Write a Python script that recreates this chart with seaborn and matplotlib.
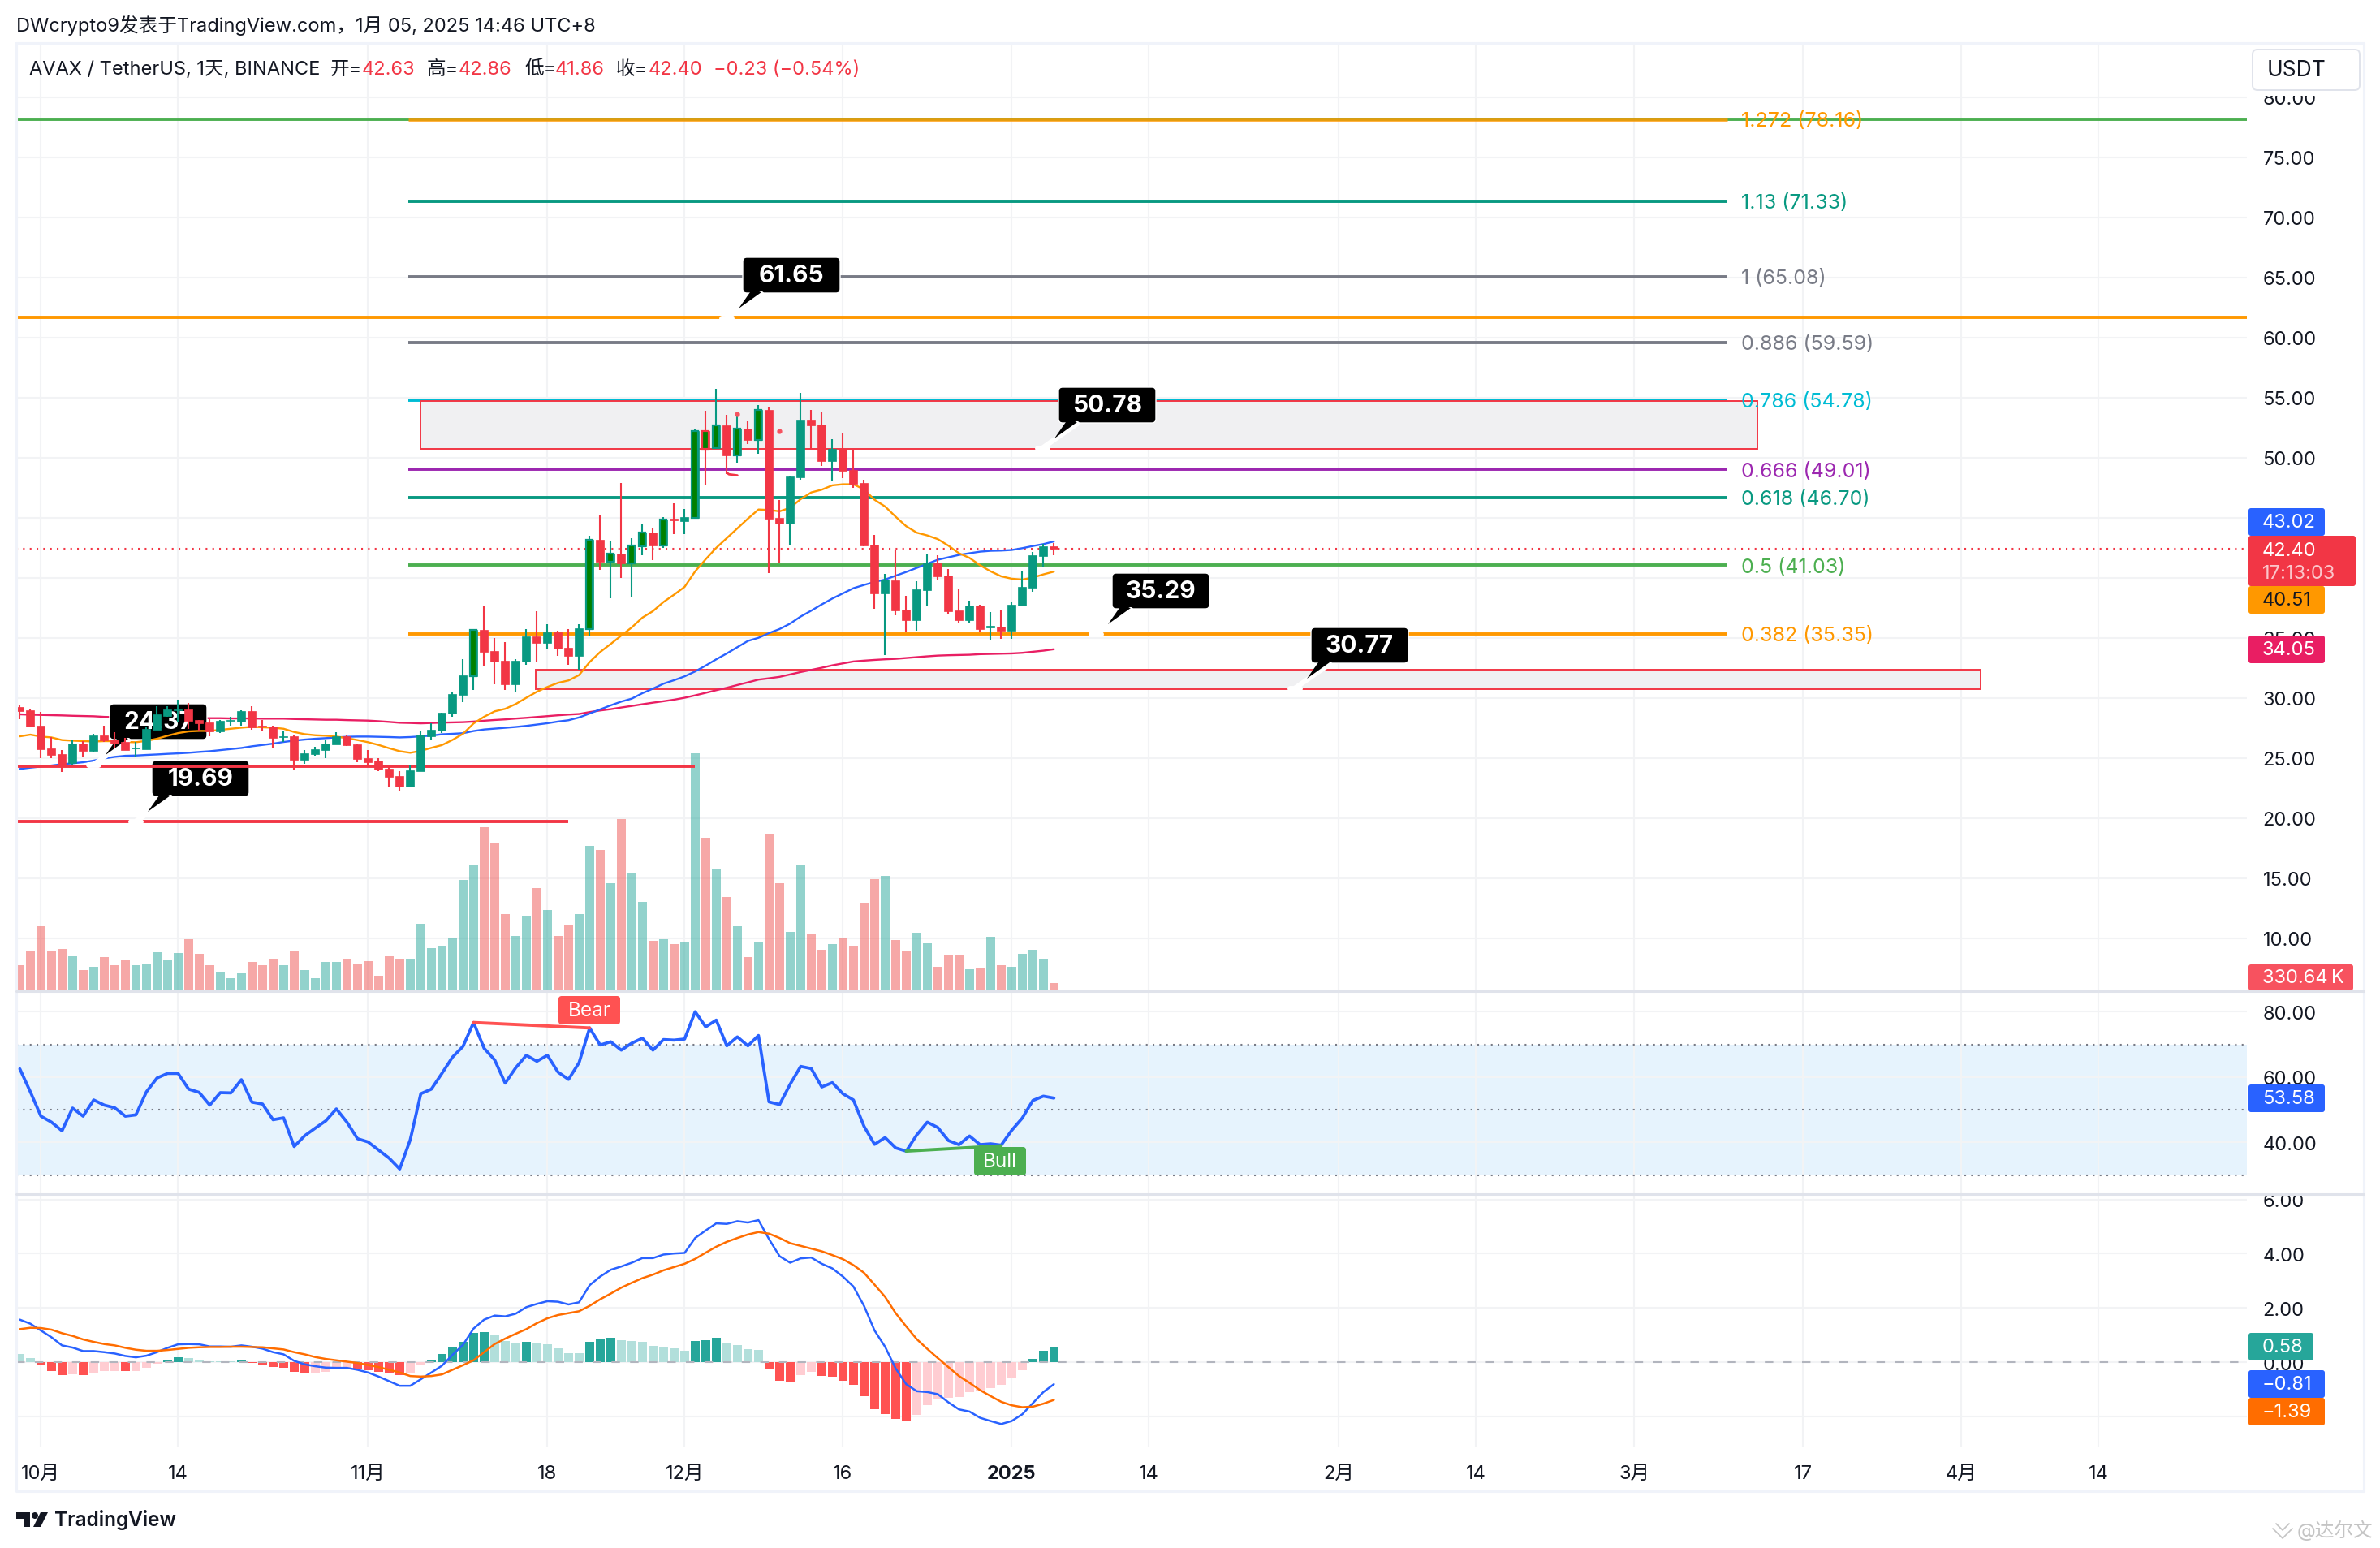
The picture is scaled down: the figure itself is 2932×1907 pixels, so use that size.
import numpy as np
import pandas as pd
import matplotlib
matplotlib.use("Agg")
import matplotlib.pyplot as plt
import seaborn as sns
from matplotlib.patches import Rectangle, FancyBboxPatch, Polygon, Circle
from matplotlib.lines import Line2D
from matplotlib.transforms import Affine2D

# ---------- data ----------
opens = [29.21,28.96,27.68,25.79,25.32,24.57,26.19,25.61,26.87,26.53,26.33,25.77,25.74,27.37,28.47,28.99,29.03,28.15,27.93,27.21,
28.09,28.02,28.90,27.68,27.61,26.76,26.80,24.84,25.32,25.65,26.13,26.80,26.13,24.98,24.78,24.10,23.49,22.61,23.90,
26.83,27.29,28.70,30.26,31.81,35.66,33.91,33.10,31.14,33.03,35.12,34.58,35.46,34.18,33.50,35.73,43.16,41.34,42.01,41.20,42.62,
43.77,42.69,44.92,44.72,44.99,52.21,50.80,52.69,50.19,52.42,51.47,53.97,44.99,44.51,48.36,53.09,52.76,49.71,50.73,48.97,
47.89,42.76,38.70,39.78,37.35,36.47,38.97,41.20,40.19,37.28,36.47,37.69,35.89,35.93,35.60,37.69,39.18,41.81,42.63]
highs = [29.41,29.08,28.81,26.71,25.65,26.44,26.37,27.00,27.68,27.12,26.67,26.33,27.57,29.30,29.30,29.84,29.55,28.15,28.20,28.13,
28.42,28.96,29.30,28.15,27.68,27.19,26.89,25.65,25.92,26.44,27.14,26.89,26.22,25.65,24.98,24.26,23.90,24.42,27.28,
27.91,28.77,30.46,33.23,35.73,37.62,34.99,34.65,33.23,35.73,37.22,36.14,35.60,35.73,36.14,43.50,45.26,43.09,47.89,43.30,44.45,
44.18,45.05,46.20,45.73,52.42,53.90,55.73,53.57,53.70,53.03,54.38,54.17,46.47,48.43,55.39,53.97,53.77,51.54,52.01,50.66,
48.16,43.57,40.32,42.35,38.50,39.72,42.01,41.88,40.73,39.04,38.09,37.76,37.15,37.28,37.96,40.59,42.15,42.82,42.86]
lows = [28.24,27.57,24.98,24.98,23.85,24.37,25.05,25.47,26.33,25.88,25.65,25.07,25.72,27.34,28.42,28.02,27.41,27.23,26.80,27.07,
27.68,27.68,27.34,27.23,25.86,26.33,23.97,24.51,25.18,24.98,26.13,25.99,24.64,24.37,23.90,22.55,22.28,22.55,23.90,
26.50,27.08,28.43,29.65,30.66,32.62,31.14,30.66,30.53,32.76,33.03,34.04,33.50,32.76,32.35,35.12,40.66,38.30,40.01,38.43,41.88,
41.47,42.49,43.64,43.64,44.99,47.76,50.80,48.63,49.58,51.13,50.32,40.39,41.27,42.76,48.16,50.73,49.31,48.09,48.30,47.48,
42.62,37.42,33.57,36.88,35.46,35.60,37.69,39.78,36.95,36.27,36.27,35.46,34.85,34.92,34.92,37.69,38.84,40.87,41.86]
closes = [28.92,27.61,25.74,25.25,24.42,26.19,25.61,26.87,26.44,26.19,25.68,25.83,27.41,28.63,29.03,29.05,28.09,27.91,27.21,28.09,
28.15,28.90,27.55,27.61,26.67,26.82,24.84,25.38,25.72,26.19,26.80,26.06,24.91,24.64,24.03,23.42,22.61,23.97,26.94,
27.35,28.77,30.33,31.88,35.66,33.84,33.03,31.14,33.10,35.12,34.58,35.46,34.11,33.50,35.80,43.16,41.34,42.01,41.20,42.69,43.77,
42.69,44.85,44.78,45.05,52.21,50.73,52.69,50.19,52.42,51.47,53.97,44.92,44.51,48.43,53.09,52.69,49.71,50.73,48.90,47.82,
42.69,38.70,39.85,37.28,36.47,39.04,41.20,40.12,37.22,36.47,37.69,35.73,36.00,35.60,37.76,39.24,41.88,42.62,42.40]
# candles whose body shows the dark green overlay
dark_fill = [43,54,56,58,59,61,64,65,66,68,70]

# volume, in units of about 13.8K
volume = [90,141,234,141,150,123,72,84,120,90,108,90,93,138,108,135,186,132,90,63,42,60,102,90,114,90,141,72,42,102,102,111,93,105,51,123,114,114,243,153,162,189,405,462,600,540,279,198,270,375,294,198,240,
279,531,516,393,630,429,324,180,186,168,174,873,561,447,342,234,120,174,573,393,213,459,204,147,168,189,162,321,408,420,183,141,210,171,84,129,126,75,78,195,90,84,132,147,111,24]

ma_fast = [26.80,26.94,26.78,26.71,26.49,26.44,26.40,26.37,26.40,26.40,26.33,26.31,26.42,26.60,26.85,27.07,27.21,27.25,27.25,27.34,27.43,27.52,27.59,27.55,27.52,27.43,27.16,26.98,26.89,26.85,26.78,26.65,26.49,26.31,26.08,25.81,25.56,25.43,25.59,
25.84,26.07,26.50,27.01,27.87,28.43,28.88,29.09,29.49,30.01,30.51,30.91,31.25,31.45,31.90,32.98,33.82,34.49,35.19,35.87,36.68,37.22,37.98,38.59,39.24,40.53,41.54,42.49,43.30,44.11,44.92,45.68,45.64,45.53,45.82,46.54,47.10,47.33,47.69,47.78,47.78,47.35,46.49,45.93,45.08,44.29,43.75,43.52,43.21,42.67,42.04,41.65,41.04,40.53,40.12,39.92,39.85,40.01,40.28,40.51]
ma_mid = [24.08,24.19,24.28,24.37,24.48,24.55,24.64,24.78,24.96,25.09,25.18,25.20,25.25,25.29,25.34,25.38,25.43,25.50,25.56,25.65,25.74,25.83,25.97,26.08,26.19,26.33,26.44,26.53,26.60,26.65,26.71,26.76,26.78,26.78,26.76,26.74,26.71,26.74,26.80,
26.86,26.97,27.01,27.06,27.24,27.37,27.44,27.51,27.58,27.67,27.78,27.89,28.03,28.14,28.37,28.70,29.04,29.38,29.69,29.94,30.39,30.77,31.18,31.47,31.79,32.20,32.69,33.21,33.70,34.22,34.74,35.00,35.39,35.73,36.18,36.77,37.26,37.78,38.27,38.70,39.13,39.40,39.65,39.85,40.17,40.48,40.82,41.16,41.50,41.70,41.90,42.04,42.17,42.24,42.26,42.31,42.46,42.64,42.80,43.02]
ma_slow = [28.63,28.60,28.58,28.56,28.54,28.51,28.49,28.47,28.42,28.40,28.40,28.38,28.36,28.36,28.33,28.33,28.33,28.31,28.31,28.31,28.29,28.29,28.29,28.27,28.27,28.27,28.24,28.22,28.20,28.18,28.18,28.15,28.13,28.11,28.06,28.00,27.93,27.91,27.88,
27.91,27.94,27.96,27.98,28.03,28.10,28.16,28.21,28.28,28.34,28.41,28.48,28.55,28.61,28.66,28.82,28.95,29.06,29.20,29.33,29.47,29.60,29.72,29.85,30.01,30.21,30.42,30.64,30.84,31.07,31.29,31.52,31.63,31.75,31.95,32.15,32.33,32.51,32.71,32.87,33.03,33.10,33.16,33.21,33.25,33.32,33.39,33.46,33.52,33.55,33.57,33.59,33.64,33.66,33.68,33.70,33.75,33.84,33.93,34.05]

rsi = [62.53,55.50,48.05,46.23,43.58,50.53,48.05,53.01,51.44,50.61,48.05,48.46,55.50,59.72,61.13,61.13,56.32,55.33,51.44,55.25,55.17,59.22,52.35,51.77,46.97,47.55,38.77,42.09,44.40,46.64,50.28,46.23,41.18,40.18,37.70,35.22,31.90,40.84,54.92,56.32,61.13,66.09,69.40,76.69,68.82,65.26,58.15,62.86,66.67,64.85,66.67,61.54,59.30,
64.44,75.03,69.82,70.81,68.25,70.40,71.89,68.25,71.47,71.31,71.64,80.00,75.36,77.43,69.57,72.30,69.57,72.72,52.43,51.61,57.81,63.28,62.62,56.99,58.31,54.92,53.01,44.98,39.44,41.51,38.36,37.37,42.33,46.23,44.57,40.60,39.35,42.00,39.35,39.60,39.19,43.74,47.47,52.85,54.17,53.58]

macd_hist = [0.30,0.15,-0.12,-0.33,-0.48,-0.45,-0.48,-0.39,-0.33,-0.32,-0.34,-0.33,-0.21,-0.06,0.09,0.18,0.15,0.09,0.03,0.03,0.03,0.06,-0.03,-0.09,-0.18,-0.21,-0.36,-0.42,-0.39,-0.36,-0.27,-0.26,-0.27,-0.30,-0.36,-0.42,-0.48,-0.39,-0.12,0.09,0.30,0.54,0.75,1.08,1.11,1.02,0.78,0.72,0.75,0.69,0.66,0.51,0.33,
0.33,0.75,0.87,0.90,0.81,0.78,0.75,0.60,0.57,0.51,0.42,0.78,0.81,0.90,0.69,0.63,0.48,0.45,
-0.24,-0.69,-0.75,-0.48,-0.36,-0.51,-0.54,-0.69,-0.84,-1.26,-1.73,-1.91,-2.09,-2.18,-1.94,-1.59,-1.35,-1.32,-1.29,-1.11,-1.05,-0.96,-0.84,-0.60,-0.30,0.12,0.42,0.58]
macd_line = [1.57,1.42,1.17,0.92,0.62,0.54,0.41,0.41,0.37,0.32,0.23,0.18,0.24,0.37,0.53,0.66,0.67,0.66,0.58,0.58,0.57,0.62,0.57,0.50,0.37,0.29,0.05,-0.08,-0.15,-0.20,-0.21,-0.21,-0.28,-0.38,-0.53,-0.70,-0.87,-0.87,-0.63,-0.38,-0.13,0.27,0.64,1.24,1.57,1.72,1.69,1.79,2.03,2.15,2.25,2.23,2.13,
2.21,2.84,3.16,3.41,3.53,3.67,3.84,3.84,3.97,4.01,4.03,4.58,4.86,5.12,5.10,5.20,5.15,5.24,4.54,3.91,3.67,3.83,3.86,3.63,3.46,3.16,2.79,2.08,1.17,0.57,-0.23,-0.81,-1.07,-1.10,-1.18,-1.48,-1.74,-1.82,-2.05,-2.17,-2.28,-2.17,-1.92,-1.51,-1.10,-0.81]
macd_signal = [1.22,1.27,1.26,1.20,1.07,0.97,0.84,0.75,0.67,0.62,0.53,0.46,0.42,0.42,0.45,0.49,0.53,0.55,0.56,0.56,0.57,0.57,0.56,0.55,0.51,0.47,0.37,0.29,0.19,0.12,0.07,0.02,-0.03,-0.10,-0.18,-0.28,-0.38,-0.51,-0.53,-0.51,-0.45,-0.28,-0.11,0.07,0.37,0.67,0.87,1.05,1.22,1.44,1.62,1.74,1.81,
1.88,2.08,2.32,2.53,2.75,2.93,3.10,3.23,3.39,3.51,3.63,3.81,4.04,4.26,4.44,4.58,4.71,4.80,4.74,4.58,4.39,4.29,4.19,4.09,3.95,3.80,3.58,3.30,2.86,2.41,1.81,1.32,0.85,0.49,0.15,-0.18,-0.51,-0.76,-1.03,-1.25,-1.46,-1.59,-1.66,-1.64,-1.53,-1.39]

fib_ratio = ["1.272","1.13","1","0.886","0.786","0.666","0.618","0.5","0.382"]
fib_value = [78.16,71.33,65.08,59.59,54.78,49.01,46.70,41.03,35.35]
fib_color = ["#ff9800","#089981","#787b86","#787b86","#00bcd4","#9c27b0","#089981","#4caf50","#ff9800"]

tick_pos = [2,15,33,50,63,78,94,107,125,138,153,169,184,197]
tick_txt = ["10月","14","11月","18","12月","16","2025","14","2月","14","3月","17","4月","14"]
price_ticks = [10,15,20,25,30,35,40,45,50,55,60,65,70,75,80]
rsi_ticks = [40,60,80]
macd_ticks = [-2,0,2,4,6]

W, H = 2932, 1908
GRID = "#f2f3f5"
UP, DOWN = "#089981", "#f23645"
INK = "#131722"
AXFS = 17

# ---------- figure and panes ----------
sns.set_theme(style="white")
plt.rcParams["font.family"] = ["Inter", "Noto Sans CJK SC", "DejaVu Sans"]
plt.rcParams["axes.unicode_minus"] = True
fig = plt.figure(figsize=(W/100, H/100), dpi=100, facecolor="white")
px = Affine2D().scale(1, -1).translate(0, H)
L, R = 20, 2768
T1, B1, B2, B3 = 55, 1222, 1472, 1838

def pane(top, bottom, z):
    a = fig.add_axes([L/W, 1-bottom/H, (R-L)/W, (bottom-top)/H], zorder=z)
    a.patch.set_visible(False)
    for s in a.spines.values():
        s.set_visible(False)
    return a

idx = np.arange(len(closes))
XLIM = (-0.338, 211.05)
PRICE_LIM = (5.59, 84.44)

ax_grid = pane(T1, B1, 0)
ax_vol = pane(T1, B1, 1)
ax_price = pane(T1, B1, 2)
ax_rsi = pane(B1, B2, 2)
ax_macd = pane(B2, B3, 2)

# volume
up_flag = [c >= o for o, c in zip(opens, closes)]
dfv = pd.DataFrame({"i": idx, "v": volume, "d": ["up" if u else "down" for u in up_flag]})
sns.barplot(data=dfv, x="i", y="v", hue="d", palette={"up": "#26a69a", "down": "#ef5350"},
            native_scale=True, dodge=False, width=0.85, alpha=0.5, errorbar=None, saturation=1,
            legend=False, linewidth=0, ax=ax_vol)
ax_vol.set_xlim(*XLIM)
ax_vol.set_ylim(-6, 3495)
ax_vol.set_axis_off()

# grid pane
ax_grid.set_xlim(*XLIM)
ax_grid.set_ylim(*PRICE_LIM)
ax_grid.set_yticks(price_ticks)
ax_grid.set_xticks(tick_pos)
ax_grid.tick_params(left=False, bottom=False, labelleft=False, labelbottom=False)
ax_grid.grid(True, color=GRID, lw=1.5)

# price pane decorations
ax = ax_price
ax.axhline(78.16, color="#4caf50", lw=2.8, zorder=2)
ax.axhline(61.65, color="#ff9800", lw=2.8, zorder=2)
ax.hlines(24.30, XLIM[0], 64.0, color=DOWN, lw=2.8, zorder=5)
ax.hlines(19.69, XLIM[0], 52.0, color=DOWN, lw=2.8, zorder=5)
for val, col, rat in zip(fib_value, fib_color, fib_ratio):
    ax.hlines(val, 36.8, 161.8, color=col, lw=3.4 if rat == "1.272" else 2.8, zorder=2.5, alpha=0.85 if rat == "1.272" else 1)
    ax.text(163.1, val - 0.12, f"{rat} ({val:.2f})", color=col, fontsize=18, va="center", ha="left", zorder=7)
ax.add_patch(Rectangle((37.97, 50.75), 164.7-37.97, 54.72-50.75, fc="#f0f0f2", ec=DOWN, lw=1.4, zorder=2.55))
ax.add_patch(Rectangle((48.9, 30.72), 185.8-48.9, 32.34-30.72, fc="#f0f0f2", ec=DOWN, lw=1.4, zorder=2.55))
ax.axhline(closes[-1], color=DOWN, lw=1.5, ls=(0, (1, 3)), zorder=2.6)

sns.lineplot(x=idx, y=ma_slow, color="#e91e63", lw=1.7, ax=ax, zorder=2.8, errorbar=None)
sns.lineplot(x=idx, y=ma_mid, color="#2962ff", lw=1.7, ax=ax, zorder=4, errorbar=None)
sns.lineplot(x=idx, y=ma_fast, color="#ff9800", lw=1.7, ax=ax, zorder=4, errorbar=None)

# candles
cols = [UP if u else DOWN for u in up_flag]
bot = np.minimum(opens, closes)
hgt = np.abs(np.array(closes) - np.array(opens))
ax.vlines(idx, lows, highs, colors=cols, lw=1.5, zorder=6)
ax.bar(idx, hgt, bottom=bot, width=0.76, color=cols, edgecolor=cols, linewidth=0.5, zorder=6)
for d in dark_fill:
    ax.bar(d, hgt[d], bottom=bot[d], width=0.62, color="#008000", edgecolor=cols[d], linewidth=1.6, zorder=6.1)
# small stray marks on the chart
ax.plot([68], [53.66], "o", color="#f7525f", ms=3.5, zorder=6.2)
ax.plot([72], [52.24], "o", color="#f7525f", ms=3.5, zorder=6.2)
ax.plot([67, 67.2, 68], [48.75, 48.61, 48.52], color="#f23645", lw=2, zorder=6.2)

ax.set_xlim(*XLIM)
ax.set_ylim(*PRICE_LIM)
ax.yaxis.tick_right()
ax.set_yticks(price_ticks, [f"{v:.2f}" for v in price_ticks])
ax.set_xticks([])
ax.set_xlabel(""); ax.set_ylabel("")
ax.tick_params(axis="y", length=0, pad=14, labelsize=AXFS, labelcolor=INK)
ax.set_axisbelow(False)

def callout(txt, left, top, box_z, tip_z):
    w, h = 120, 44
    b = top + h
    gap = (left-20, b+31)
    a = ax_price
    a.add_patch(FancyBboxPatch((left, top), w, h, boxstyle="round,pad=0,rounding_size=5", fc="black", ec="white",
                               lw=1, transform=px, zorder=box_z, clip_on=False))
    a.add_line(Line2D([gap[0], left+23], [gap[1], b+1], color="white", lw=4.5, transform=px, zorder=tip_z, clip_on=False))
    a.add_line(Line2D([gap[0]-6, gap[0]+6], [gap[1], gap[1]], color="white", lw=5, solid_capstyle="round", transform=px, zorder=tip_z, clip_on=False))
    a.add_patch(Polygon([(left+9, b-1), (left+23, b-1), (left-5, b+19)], fc="black", ec="none", transform=px, zorder=tip_z+0.1, clip_on=False))
    a.text(left+w/2, top+h/2+0.5, txt, color="white", fontsize=21.5, fontweight="bold", ha="center", va="center",
           transform=px, zorder=box_z+0.1, clip_on=False)

callout("61.65", 915, 318, 8, 8)
callout("50.78", 1304, 478, 8, 8)
callout("35.29", 1370, 707, 8, 8)
callout("30.77", 1615, 774, 8, 8)
callout("24.37", 135, 868, 3, 5.5)
callout("19.69", 187, 938, 3, 5.5)

# RSI pane
a = ax_rsi
a.axhspan(30, 70, color="#2196f3", alpha=0.11, lw=0, zorder=0.5)
for lv in (70, 50, 30):
    a.axhline(lv, color="#787b86", lw=1.5, ls=(0, (1, 3)), zorder=1)
sns.lineplot(x=idx, y=rsi, color="#2962ff", lw=2.7, ax=a, zorder=3, errorbar=None)
a.plot([43, 54], [rsi[43], rsi[54]], color="#ff5252", lw=2.8, zorder=4)
a.plot([84, 93], [rsi[84], 39.0], color="#4caf50", lw=2.8, zorder=4)
a.set_xlim(*XLIM); a.set_ylim(24.24, 86.28)
a.yaxis.tick_right()
a.set_yticks(rsi_ticks, [f"{v:.2f}" for v in rsi_ticks])
a.set_xticks(tick_pos)
a.set_xlabel(""); a.set_ylabel("")
a.tick_params(axis="y", length=0, pad=14, labelsize=AXFS, labelcolor=INK)
a.tick_params(axis="x", length=0, labelbottom=False)
a.grid(True, color=GRID, lw=1.5); a.set_axisbelow(True)

# MACD pane
a = ax_macd
kinds = []
prev = np.inf
for v in macd_hist:
    if v >= 0:
        kinds.append("pos_up" if v > prev else "pos_down")
    else:
        kinds.append("neg_up" if v > prev else "neg_down")
    prev = v
dfm = pd.DataFrame({"i": idx, "h": macd_hist, "k": kinds})
sns.barplot(data=dfm, x="i", y="h", hue="k",
            palette={"pos_up": "#26a69a", "pos_down": "#b2dfdb", "neg_up": "#ffcdd2", "neg_down": "#ff5252"},
            native_scale=True, dodge=False, width=0.85, errorbar=None, saturation=1, legend=False, linewidth=0, ax=a, zorder=2)
a.axhline(0, color="#b2b5be", lw=1.5, ls=(0, (5, 6)), zorder=2.5)
sns.lineplot(x=idx, y=macd_line, color="#2962ff", lw=1.8, ax=a, zorder=3, errorbar=None)
sns.lineplot(x=idx, y=macd_signal, color="#ff6d00", lw=1.8, ax=a, zorder=3, errorbar=None)
a.set_xlim(*XLIM); a.set_ylim(-3.14, 6.2)
a.set_position([L/W, 1-1784/H, (R-L)/W, (1784-B2)/H])
a.yaxis.tick_right()
a.set_yticks(macd_ticks, [f"{v:.2f}".replace("-", "\u2212") for v in macd_ticks])
a.set_xticks(tick_pos, tick_txt)
a.set_xlabel(""); a.set_ylabel("")
a.tick_params(axis="y", length=0, pad=14, labelsize=AXFS, labelcolor=INK)
a.tick_params(axis="x", length=0, pad=15, labelsize=AXFS, labelcolor=INK)
for lab in a.get_xticklabels():
    if lab.get_text() == "2025":
        lab.set_fontweight("bold")
a.grid(True, color=GRID, lw=1.5); a.set_axisbelow(True)

# ---------- figure level furniture ----------
def fline(xs, ys, c, lw=2.2, z=20):
    fig.add_artist(Line2D(xs, ys, color=c, lw=lw, transform=px, zorder=z))

def tag(x0, y0, x1, y1, color, label, tc="white", sub=None):
    fig.add_artist(FancyBboxPatch((x0, y0), x1-x0, y1-y0, boxstyle="round,pad=0,rounding_size=3", fc=color, ec="none",
                                  transform=px, zorder=30))
    if sub is None:
        fig.text(2787, (y0+y1)/2+0.5, label, color=tc, fontsize=AXFS, va="center", ha="left", transform=px, zorder=31)
    else:
        fig.text(2787, y0+18, label, color=tc, fontsize=AXFS, va="center", ha="left", transform=px, zorder=31)
        fig.text(2787, y0+46, sub, color="#fbc5ca", fontsize=AXFS, va="center", ha="left", transform=px, zorder=31)

# white mask over the top of the axis, hiding half of the top label
fig.add_artist(Rectangle((2770, 56), 140, 63, fc="white", ec="none", transform=px, zorder=19))

fline([L, 2912, 2912, L, L], [54, 54, 1838, 1838, 54], "#f0f3fa", 2.2)
fline([L, 2912], [B1, B1], "#e0e3eb", 2.2)
fline([L, 2912], [B2, B2], "#e0e3eb", 2.2)

tag(2770, 627, 2864, 661, "#2962ff", "43.02")
tag(2770, 661, 2902, 723, "#f23645", "42.40", sub="17:13:03")
tag(2770, 723, 2864, 757, "#ff9800", "40.51", tc=INK)
tag(2770, 784, 2864, 818, "#e91e63", "34.05")
tag(2770, 1189, 2899, 1221, "#f7525f", "330.64\u2009K")
tag(2770, 1337, 2864, 1371, "#2962ff", "53.58")
tag(2770, 1643, 2850, 1677, "#26a69a", "0.58")
tag(2770, 1689, 2864, 1723, "#2962ff", "\u22120.81")
tag(2770, 1723, 2864, 1757, "#ff6d00", "\u22121.39")

# Bear / Bull labels
fig.add_artist(FancyBboxPatch((688, 1228), 76, 35, boxstyle="round,pad=0,rounding_size=4", fc="#ff5252", ec="none", transform=px, zorder=25))
fig.text(726, 1246, "Bear", color="white", fontsize=17.5, ha="center", va="center", transform=px, zorder=26)
fig.add_artist(FancyBboxPatch((1200, 1414), 64, 35, boxstyle="round,pad=0,rounding_size=4", fc="#4caf50", ec="none", transform=px, zorder=25))
fig.text(1232, 1432, "Bull", color="white", fontsize=17.5, ha="center", va="center", transform=px, zorder=26)

# header and legend
fig.text(20, 31, "DWcrypto9发表于TradingView.com，1月 05, 2025 14:46 UTC+8", color=INK, fontsize=17, va="center", ha="left", transform=px, zorder=40)
legend_black = [(36, "AVAX / TetherUS, 1天, BINANCE"), (407, "开="), (526, "高="), (646, "低="), (759, "收=")]
legend_red = [(446, "42.63"), (565, "42.86"), (684, "41.86"), (799, "42.40"), (879, "\u22120.23 (\u22120.54%)")]
for x, s in legend_black:
    fig.text(x, 86, s, color=INK, fontsize=17, va="center", ha="left", transform=px, zorder=40)
for x, s in legend_red:
    fig.text(x, 86, s, color=DOWN, fontsize=17, va="center", ha="left", transform=px, zorder=40)

# USDT button
fig.add_artist(FancyBboxPatch((2775, 62), 132, 50, boxstyle="round,pad=0,rounding_size=6", fc="white", ec="#e0e3eb", lw=1.4, transform=px, zorder=35))
fig.text(2793, 87, "USDT", color=INK, fontsize=19, va="center", ha="left", transform=px, zorder=36)

# TradingView logo
fig.add_artist(Polygon([(20, 1864), (37, 1864), (37, 1882), (29, 1882), (29, 1872), (20, 1872)], fc=INK, ec="none", transform=px, zorder=40))
fig.add_artist(Circle((43, 1868), 4, fc=INK, ec="none", transform=px, zorder=40))
fig.add_artist(Polygon([(50, 1864), (59, 1864), (50, 1882), (41, 1882)], fc=INK, ec="none", transform=px, zorder=40))
fig.text(67, 1873, "TradingView", color=INK, fontsize=17.5, fontweight=600, va="center", ha="left", transform=px, zorder=40)

# watermark
fig.text(2830, 1885, "@达尔文", color="#c4c4c4", fontsize=17, va="center", ha="left", transform=px, zorder=40)
fline([2800, 2812, 2824], [1884, 1896, 1884], "#c4c4c4", 1.2, 40)
fline([2804, 2812, 2820], [1878, 1886, 1878], "#c4c4c4", 1.2, 40)

fig.savefig("out.png", dpi=100, facecolor="white")
